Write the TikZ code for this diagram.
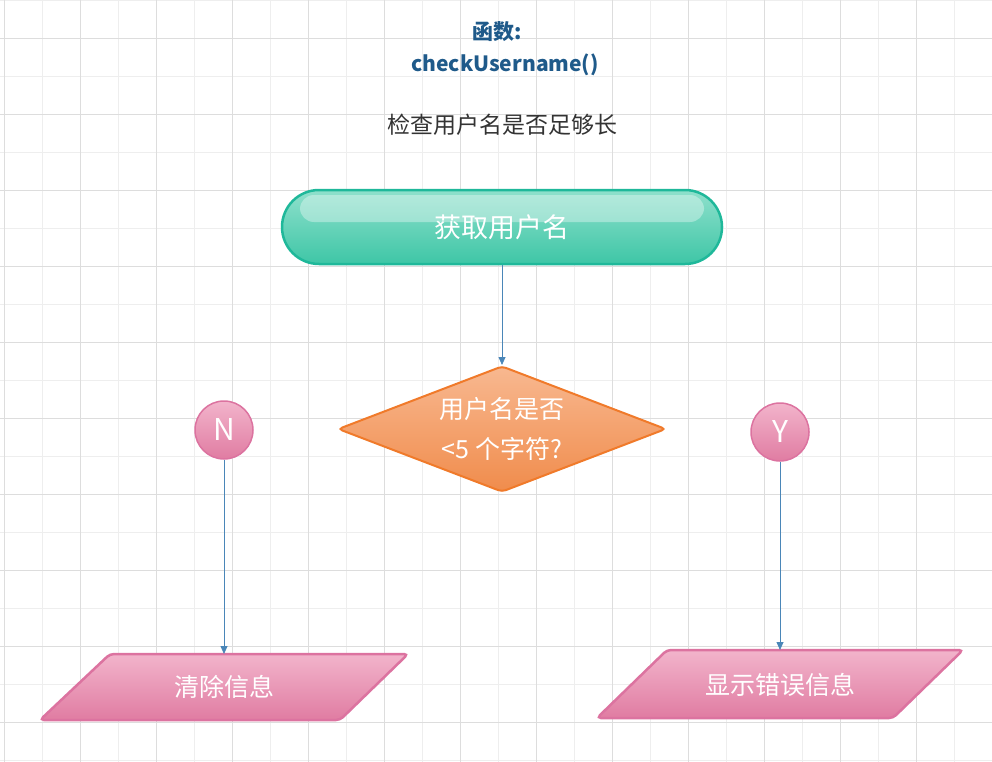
\documentclass[tikz,border=0pt]{standalone}
\usepackage{fontspec}
\setmainfont{Noto Sans CJK SC}
\usetikzlibrary{calc}
\usetikzlibrary{arrows, arrows.meta}
\usetikzlibrary{shapes.geometric}

\definecolor{gridminor}{HTML}{EEEEEE}
\definecolor{gridmajor}{HTML}{DDDDDD}
\definecolor{titleblue}{HTML}{1F5A8A}
\definecolor{textgray}{HTML}{333333}
\definecolor{flowblue}{HTML}{4A86B8}
\definecolor{tealdraw}{HTML}{1FB89A}
\definecolor{tealtop}{HTML}{8FE0CC}
\definecolor{tealbot}{HTML}{3EC6A6}
\definecolor{orangedraw}{HTML}{F07A2A}
\definecolor{orangetop}{HTML}{F8B890}
\definecolor{orangebot}{HTML}{F08C4C}
\definecolor{pinkdraw}{HTML}{DC73A0}
\definecolor{pinktop}{HTML}{F2B4CB}
\definecolor{pinkbot}{HTML}{E07CA2}

\begin{document}
\begin{tikzpicture}[x=1pt, y=-1pt]

\tikzstyle{flow arrow} = [line width=0.8pt, flowblue, -{Triangle[length=8pt, width=7pt]}]
\tikzstyle{start box} = [draw=tealdraw, line width=2.5pt, rounded corners=37pt,
	top color=tealtop, bottom color=tealbot, minimum width=440pt, minimum height=74pt,
	text=white, font=\fontsize{27}{30}\selectfont]
\tikzstyle{decision box} = [shape=diamond, draw=orangedraw, line width=2pt, rounded corners=4pt,
	top color=orangetop, bottom color=orangebot, minimum width=328pt, minimum height=126pt,
	aspect=2.6, inner sep=0pt, text=white, align=center, font=\fontsize{25}{40}\selectfont]
\tikzstyle{answer dot} = [shape=circle, draw=pinkdraw, line width=1.5pt, minimum size=58pt,
	top color=pinktop, bottom color=pinkbot, inner sep=0pt, text=white,
	font=\fontsize{30}{30}\selectfont]
\tikzstyle{io shape} = [draw=pinkdraw, line width=2.5pt, rounded corners=4pt,
	top color=pinktop, bottom color=pinkbot]
\tikzstyle{io text} = [text=white, font=\fontsize{25}{28}\selectfont]

\useasboundingbox (0, 0) rectangle (992, 762);

% grid

\foreach \gx in {4, 42, ..., 992}
	\draw [gridminor, line width=0.8pt] (\gx, 0) -- (\gx, 762) ;
\foreach \gy in {0, 38, ..., 762}
	\draw [gridminor, line width=0.8pt] (0, \gy) -- (992, \gy) ;
\foreach \gx in {4, 80, ..., 992}
	\draw [gridmajor, line width=0.8pt] (\gx, 0) -- (\gx, 762) ;
\foreach \gy in {38, 114, ..., 762}
	\draw [gridmajor, line width=0.8pt] (0, \gy) -- (992, \gy) ;

% titles

\node [text=titleblue, font=\fontsize{21}{24}\selectfont\bfseries] (functitle) at (497, 32) {函数:} ;
\node [text=titleblue, font=\fontsize{21}{24}\selectfont\bfseries] (funcname) at (505, 65) {checkUsername()} ;
\node [text=textgray, font=\fontsize{23}{26}\selectfont] (funcdesc) at (502, 125) {检查用户名是否足够长} ;

% flow

\node [start box] (getname) at (502, 227) {获取用户名} ;
\fill [white, opacity=0.35, rounded corners=14pt] (300, 195) rectangle (704, 222) ;

\node [decision box] (checklen) at (502, 429) {用户名是否\\<5 个字符?} ;

\node [answer dot] (nodot) at (224, 430) {N} ;
\node [answer dot] (yesdot) at (780, 432) {Y} ;

\draw [io shape] (110, 654) -- (408, 654) -- (340, 720) -- (40, 720) -- cycle ;
\node [io text] (clearmsg) at (224, 687) {清除信息} ;
\coordinate (cleartop) at (224, 654) ;

\draw [io shape] (667, 650) -- (963, 650) -- (893, 718) -- (597, 718) -- cycle ;
\node [io text] (showerr) at (780, 685) {显示错误信息} ;
\coordinate (showtop) at (780, 650) ;

% connectors

\draw [flow arrow] (getname.south) -- (checklen.north) ;
\draw [flow arrow] (nodot.south) -- (cleartop) ;
\draw [flow arrow] (yesdot.south) -- (showtop) ;

\end{tikzpicture}
\end{document}
